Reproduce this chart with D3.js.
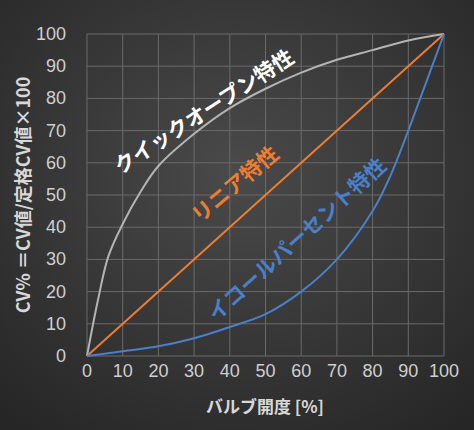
<!DOCTYPE html><html><head><meta charset="utf-8"><script src="https://cdn.jsdelivr.net/npm/d3@7"></script>
<style>body{margin:0;background:#333}</style></head><body><svg id="c" width="474" height="430"></svg><script>
const xTicks=[0,10,20,30,40,50,60,70,80,90,100];
const yTicks=[0,10,20,30,40,50,60,70,80,90,100];
const quickX=[0,3,6,10,15,20,30,40,50,60,70,80,90,100];
const quickY=[0,17,31,41,51,59,69,77,83,88,92,95,98,100];
const linearX=[0,100];const linearY=[0,100];
const eqX=[0,10,20,30,40,50,60,70,80,85,90,95,100];
const eqY=[0,1.5,3,5.5,9,13,20,30,45,56,70,85,100];
const svg=d3.select("#c");
const defs=svg.append("defs");
const g=defs.append("radialGradient").attr("id","bg").attr("cx","50%").attr("cy","40%").attr("r","75%");
g.append("stop").attr("offset","0%").attr("stop-color","#4a4a4a");
g.append("stop").attr("offset","100%").attr("stop-color","#262626");
svg.append("rect").attr("width",474).attr("height",430).attr("fill","url(#bg)");
const x=d3.scaleLinear().domain([0,100]).range([87,444]);
const y=d3.scaleLinear().domain([0,100]).range([356,34]);
const grid=svg.append("g").attr("stroke","#6a6a6a").attr("stroke-width",1);
xTicks.forEach(t=>grid.append("line").attr("x1",x(t)).attr("x2",x(t)).attr("y1",y(0)).attr("y2",y(100)));
yTicks.forEach(t=>grid.append("line").attr("y1",y(t)).attr("y2",y(t)).attr("x1",x(0)).attr("x2",x(100)));
const fnt="Noto Sans CJK JP, sans-serif";
svg.selectAll(".xt").data(xTicks).enter().append("text").attr("x",d=>x(d)).attr("y",377).attr("text-anchor","middle").attr("fill","#cfcfcf").attr("font-size",18).attr("font-family","Liberation Sans").text(d=>d);
svg.selectAll(".yt").data(yTicks).enter().append("text").attr("x",66).attr("y",d=>y(d)+6).attr("text-anchor","end").attr("fill","#cfcfcf").attr("font-size",18).attr("font-family","Liberation Sans").text(d=>d);
svg.append("text").attr("x",265).attr("y",413).attr("text-anchor","middle").attr("fill","#d8d8d8").attr("font-size",17).attr("font-weight","bold").attr("font-family",fnt).text("バルブ開度 [%]");
svg.append("text").attr("transform","translate(30,195) rotate(-90)").attr("text-anchor","middle").attr("fill","#d8d8d8").attr("font-size",18).attr("font-weight","bold").attr("font-family",fnt).text("CV% ＝CV値/定格CV値×100");
const line=d3.line().x(d=>x(d[0])).y(d=>y(d[1])).curve(d3.curveCatmullRom);
const draw=(xs,ys,c)=>svg.append("path").attr("d",line(xs.map((v,i)=>[v,ys[i]]))).attr("fill","none").attr("stroke",c).attr("stroke-width",2);
draw(quickX,quickY,"#b4b4b4");draw(linearX,linearY,"#ed7d31");draw(eqX,eqY,"#4a7fc9");
const lab=(t,cx,cy,a,c)=>svg.append("text").attr("transform",`translate(${cx},${cy}) rotate(${a})`).attr("text-anchor","middle").attr("fill",c).attr("font-size",21).attr("font-weight","bold").attr("font-family",fnt).text(t);
lab("クイックオープン特性",208,118,-33,"#ffffff");
lab("リニア特性",240,190,-40,"#ed7d31");
lab("イコールパーセント特性",302,245,-42,"#4a7fc9");
</script></body></html>
